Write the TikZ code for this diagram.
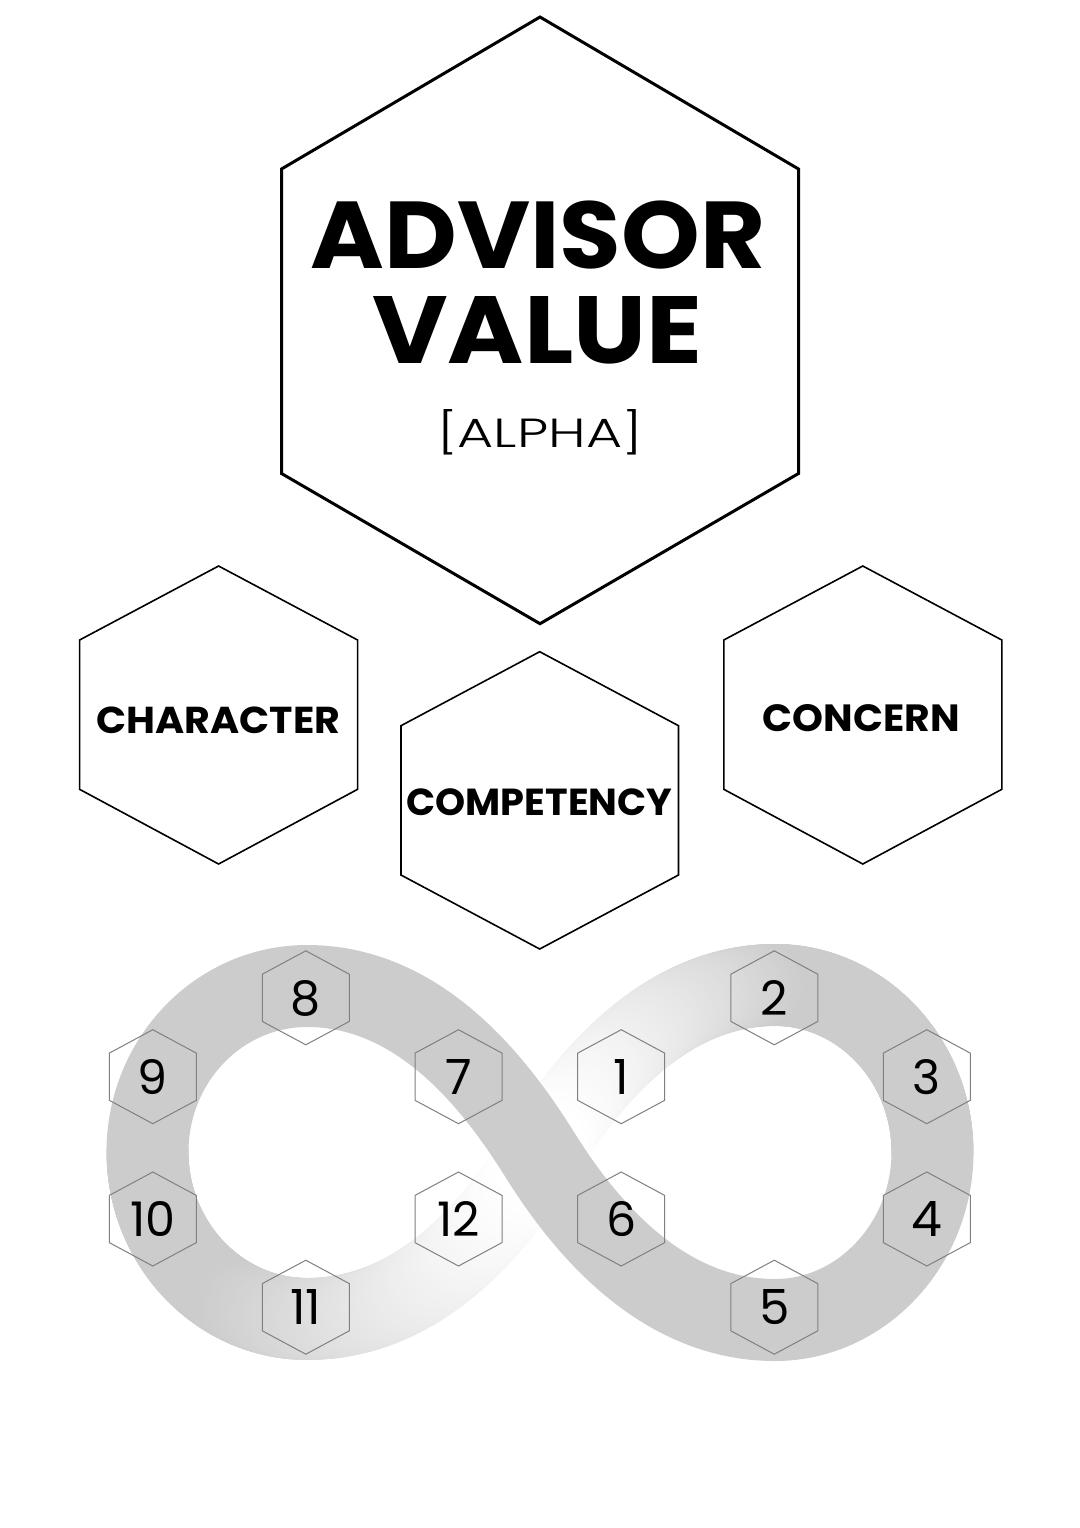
\documentclass[tikz,border=0pt]{standalone}
\usepackage{fontspec}
\usepackage{graphicx}
\setmainfont{Poppins}
\newfontfamily\numfont{Poppins}
\IfFontExistsTF{Poppins Light}{\newfontfamily\lightfont{Poppins Light}}{\newfontfamily\lightfont{Poppins}}
\IfFontExistsTF{Poppins Bold}{\newfontfamily\headfont{Poppins Bold}}{\newfontfamily\headfont{Poppins}[UprightFont=*,BoldFont=*]}
\definecolor{bandgray}{RGB}{204,204,204}
\definecolor{hexgray}{RGB}{128,128,128}
\newcommand\hexdraw[6]{\draw[#6] (#1,#2-#5) -- (#1+#3,#2-#4) -- (#1+#3,#2+#4) -- (#1,#2+#5) -- (#1-#3,#2+#4) -- (#1-#3,#2-#4) -- cycle;}
% gradient band segment drawn as dense discs
\newcommand\fadeseg[8]{%
  \foreach \fk in {0,...,100}{%
    \pgfmathsetmacro\fT{\fk/100}%
    \pgfmathsetmacro\fU{1-\fT}%
    \pgfmathsetmacro\fX{\fU*\fU*\fU*#1+3*\fU*\fU*\fT*#3+3*\fU*\fT*\fT*#5+\fT*\fT*\fT*#7}%
    \pgfmathsetmacro\fY{\fU*\fU*\fU*#2+3*\fU*\fU*\fT*#4+3*\fU*\fT*\fT*#6+\fT*\fT*\fT*#8}%
    \pgfmathsetmacro\fW{\fX<540 ? min(1,max(0,(\fX-235)/300)) : min(1,max(0,(765-\fX)/220))}%
    \pgfmathsetmacro\fG{100*(1-\fW)}%
    \fill[bandgray!\fG!white] (\fX,\fY) circle[radius=20.5pt];
  }}
\tikzset{
  bighex/.style={line width=1.5pt, line join=miter, black},
  midhex/.style={line width=0.8pt, line join=miter, black},
  smallhex/.style={line width=0.5pt, hexgray},
  band/.style={line width=41pt, bandgray, line cap=butt},
  lbl/.style={anchor=base, inner sep=0pt, outer sep=0pt},
}
\begin{document}
\begin{tikzpicture}[x=0.5pt,y=-0.5pt]
\useasboundingbox (0,0) rectangle (1080,1528);
\fill[white] (0,0) rectangle (1080,1528);

% ---- big hexagon
\draw[bighex] (540,17) -- (798.5,169) -- (798.5,473.5) -- (540,623.7) -- (281.5,473.5) -- (281.5,169) -- cycle;
\node[lbl] (advisor) at (538,268.6) {\resizebox{227.3pt}{33.8pt}{\headfont ADVISOR}};
\node[lbl] (value) at (537.5,363) {\resizebox{165pt}{33.5pt}{\headfont VALUE}};
\node[lbl] (alpha) at (540,447) {\resizebox{102.5pt}{19pt}{\lightfont [ALPHA]}};

% ---- middle hexagons
\draw[midhex] (218.6,566) -- (357.6,640) -- (357.6,789.3) -- (218.6,864) -- (79.6,789.3) -- (79.6,640) -- cycle;
\draw[midhex] (539.7,651.7) -- (678.5,725.7) -- (678.5,875) -- (539.7,949) -- (401,875) -- (401,725.7) -- cycle;
\draw[midhex] (862.8,566) -- (1001.8,640) -- (1001.8,789.3) -- (862.8,864) -- (723.8,789.3) -- (723.8,640) -- cycle;
\node[lbl] (character) at (218.6,733.3) {\resizebox{121.9pt}{13.3pt}{\headfont CHARACTER}};
\node[lbl] (competency) at (539.5,815.7) {\resizebox{132.9pt}{13.4pt}{\headfont COMPETENCY}};
\node[lbl] (concern) at (861.5,731.7) {\resizebox{98.5pt}{13.5pt}{\headfont CONCERN}};

% ---- infinity band: fading strand first (goes under)
\fadeseg{932.5}{1152}{932.5}{1060.3}{861.7}{985}{775}{985}
\fadeseg{775}{985}{665}{985}{588}{1078}{540}{1155}
\fadeseg{147.5}{1152}{147.5}{1243.7}{218.9}{1319}{307}{1319}
\fadeseg{307}{1319}{417}{1319}{492}{1232}{540}{1155}
% solid strand on top
\draw[band] (147.5,1152) .. controls (147.5,1060.3) and (218.9,986) .. (307,986)
  .. controls (417,986) and (492,1078) .. (540,1155)
  .. controls (588,1232) and (665,1320) .. (775,1320)
  .. controls (861.7,1320) and (932.5,1243.7) .. (932.5,1152);

% ---- numbered hexagons
\foreach \n/\cx/\cy in {1/621.2/1076.7, 2/774.3/997.8, 3/926.8/1076.7, 4/926.8/1219,
  5/774.3/1307.2, 6/621.2/1219, 7/458.5/1076.7, 8/305.8/997.8, 9/152.8/1076.7,
  10/152.8/1219, 11/305.8/1307.2, 12/458.5/1219}{
  \hexdraw{\cx}{\cy}{43.5}{23.6}{47}{smallhex}
  \node[lbl] (n\n) at (\cx,\cy+17.5) {\resizebox{!}{17.5pt}{\numfont \n}};
}
\end{tikzpicture}
\end{document}
